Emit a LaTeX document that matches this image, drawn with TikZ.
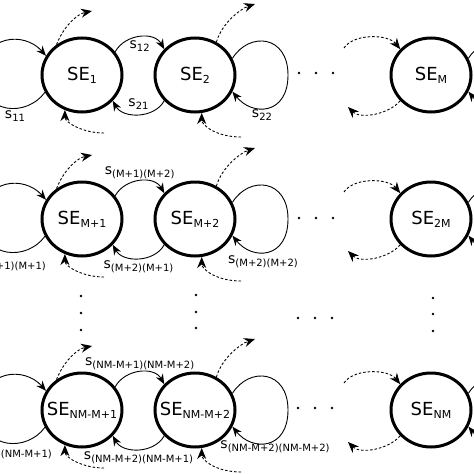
\documentclass[tikz,border=0pt]{standalone}
\usepackage{fontspec}
\setmainfont{DejaVu Sans}
\usetikzlibrary{arrows.meta,calc,shapes.geometric}
\def\sub#1{\raisebox{-3pt}{\fontsize{11}{11}\selectfont#1}}
\def\ssub#1{\raisebox{-3pt}{\fontsize{10}{10}\selectfont#1}}
% self loops
\def\rloop#1{(#1.24) .. controls +(17,-27) and +(0,-40) .. ($(#1)+(93,0)$) .. controls +(0,40) and +(20,25) .. (#1.-24)}
\def\lloop#1{(#1.-155) .. controls +(-18,25) and +(0,40) .. ($(#1)+(-100,0)$) .. controls +(0,-40) and +(-22,-25) .. (#1.152)}
\def\fwd{.. controls +(10,-18) and +(-10,-18) ..}
\def\bwd{.. controls +(-10,18) and +(10,18) ..}
% dashed exchange with the rest of the grid
\def\outl#1{\coordinate (#1o) at ($(#1)+(10,-64)$);
  \draw[flow] (#1.130) .. controls +(7,-18) and +(-15,3) .. (#1o);}
\def\inl#1{\coordinate (#1i) at ($(#1)+(22,58)$);
  \draw[flow] (#1i) .. controls +(-22,0) and +(0,12) .. (#1.-116);}
\def\outm#1{\coordinate (#1o) at ($(#1)+(60,-71)$);
  \draw[flow] (#1.57) .. controls +(5,-18) and +(-15,5) .. (#1o);}
\def\inm#1{\coordinate (#1i) at ($(#1)+(46,62)$);
  \draw[flow] (#1i) .. controls +(-25,0) and +(0,12) .. (#1.-80);}
\def\inr#1{\coordinate (#1i) at ($(#1)+(-87,-27)$);
  \draw[flow] (#1i) .. controls +(10,-15) and +(-12,-15) .. (#1.140);}
\def\outr#1{\coordinate (#1o) at ($(#1)+(-83,32)$);
  \draw[flow] (#1.-140) .. controls +(-12,14) and +(12,12) .. (#1o);}

\begin{document}
\begin{tikzpicture}[x=1pt,y=-1pt,
    se/.style={ellipse,draw,line width=3pt,minimum width=80pt,minimum height=74pt,inner sep=0pt},
    setext/.style={font=\fontsize{18}{20}\selectfont,inner sep=0pt},
    lab/.style={font=\fontsize{14}{15}\selectfont,inner sep=1pt},
    trans/.style={line width=0.9pt,-{Stealth[length=10pt,width=8pt]}},
    flow/.style={line width=0.9pt,dash pattern=on 2.5pt off 2pt,-{Stealth[length=11pt,width=9pt]}}]
  \clip (0,0) rectangle (474,474);
  % states
  \node[se,label={[setext]center:SE\sub{1}}] (a1) at (82,75) {};
  \node[se,label={[setext]center:SE\sub{2}}] (b1) at (195,75) {};
  \node[se,label={[setext]center:SE\sub{M}}] (c1) at (431,75) {};
  \node[se,label={[setext]center:SE\sub{M+1}}] (a2) at (82,219) {};
  \node[se,label={[setext]center:SE\sub{M+2}}] (b2) at (195,219) {};
  \node[se,label={[setext]center:SE\sub{2M}}] (c2) at (431,219) {};
  \node[se,label={[setext]center:SE\sub{NM-M+1}}] (a3) at (82,410) {};
  \node[se,label={[setext]center:SE\sub{NM-M+2}}] (b3) at (195,410) {};
  \node[se,label={[setext]center:SE\sub{NM}}] (c3) at (431,410) {};
  % row 1
  \draw[trans] (a1.35) \fwd (b1.140) node[lab,midway,below=2pt] (l12) {s\ssub{12}};
  \draw[trans] (b1.-140) \bwd (a1.-40) node[lab,midway,above=3pt] (l21) {s\ssub{21}};
  \draw[trans] \lloop{a1};
  \draw[trans] \rloop{b1};
  \draw[trans] \rloop{c1};
  \node[lab] (l11) at ($(a1)+(-67,41)$) {s\ssub{11}};
  \node[lab] (l22) at ($(b1)+(67,40)$) {s\ssub{22}};
  % row 2
  \draw[trans] (a2.35) \fwd (b2.140) node[lab,midway,above=1pt] (l34) {s\ssub{(M+1)(M+2)}};
  \draw[trans] (b2.-140) \bwd (a2.-40) node[lab,midway,below=1pt] (l43) {s\ssub{(M+2)(M+1)}};
  \draw[trans] \lloop{a2};
  \draw[trans] \rloop{b2};
  \draw[trans] \rloop{c2};
  \node[lab,anchor=east] (l33) at ($(a2)+(-35,46)$) {s\ssub{(M+1)(M+1)}};
  \node[lab] (l44) at ($(b2)+(68,43)$) {s\ssub{(M+2)(M+2)}};
  % row 3
  \draw[trans] (a3.35) \fwd (b3.140) node[lab,midway,above=1pt] (l56) {s\ssub{(NM-M+1)(NM-M+2)}};
  \draw[trans] (b3.-140) \bwd (a3.-40) node[lab,midway,below=1pt] (l65) {s\ssub{(NM-M+2)(NM-M+1)}};
  \draw[trans] \lloop{a3};
  \draw[trans] \rloop{b3};
  \draw[trans] \rloop{c3};
  \node[lab,anchor=east] (l55) at ($(a3)+(-29,43)$) {s\ssub{(NM-M+1)(NM-M+1)}};
  \node[lab] (l66) at ($(b3)+(80,37)$) {s\ssub{(NM-M+2)(NM-M+2)}};
  % dashed arrows
  \outl{a1} \inl{a1} \outm{b1} \inm{b1} \inr{c1} \outr{c1}
  \outl{a2} \inl{a2} \outm{b2} \inm{b2} \inr{c2} \outr{c2}
  \outl{a3} \inl{a3} \outm{b3} \inm{b3} \inr{c3} \outr{c3}
  % dots
  \fill (299,73) circle (1.3pt) (316,73) circle (1.3pt) (333,73) circle (1.3pt);
  \fill (299,218) circle (1.3pt) (316,218) circle (1.3pt) (333,218) circle (1.3pt);
  \fill (298,408) circle (1.3pt) (315,408) circle (1.3pt) (332,408) circle (1.3pt);
  \fill (298,318) circle (1.3pt) (315,318) circle (1.3pt) (332,318) circle (1.3pt);
  \fill (81,296) circle (1.3pt) (81,313) circle (1.3pt) (81,330) circle (1.3pt);
  \fill (196,295) circle (1.3pt) (196,312) circle (1.3pt) (196,328) circle (1.3pt);
  \fill (433,298) circle (1.3pt) (433,314) circle (1.3pt) (433,331) circle (1.3pt);
\end{tikzpicture}
\end{document}
